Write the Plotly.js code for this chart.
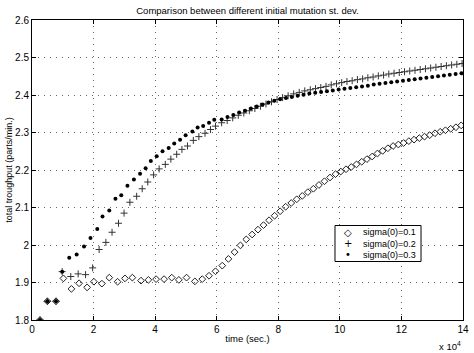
<!DOCTYPE html>
<html><head><meta charset="utf-8">
<script src="https://cdn.plot.ly/plotly-3.0.1.min.js"></script>
<style>html,body{margin:0;padding:0;background:#fff}#chart{width:474px;height:353px}</style>
</head><body><div id="chart"></div>
<script>
// time in units of 1e4 sec; throughput in parts/min
const x01 = [0.26,0.50,0.78,1.02,1.28,1.53,1.79,2.01,2.27,2.51,2.78,3.02,3.26,3.54,3.78,4.03,4.29,4.54,4.77,5.02,5.29,5.53,5.75,5.96,6.18,6.38,6.58,6.77,6.96,7.15,7.34,7.52,7.70,7.88,8.06,8.24,8.42,8.60,8.78,8.96,9.14,9.32,9.50,9.68,9.86,10.03,10.20,10.37,10.54,10.71,10.88,11.05,11.22,11.39,11.56,11.73,11.90,12.07,12.24,12.41,12.58,12.75,12.92,13.09,13.26,13.43,13.60,13.77,13.94];
const y01 = [1.80,1.85,1.85,1.911,1.883,1.898,1.887,1.902,1.897,1.913,1.902,1.911,1.913,1.905,1.907,1.909,1.909,1.913,1.907,1.913,1.903,1.909,1.918,1.930,1.945,1.963,1.981,1.999,2.015,2.028,2.041,2.053,2.066,2.078,2.090,2.102,2.112,2.122,2.131,2.141,2.150,2.160,2.170,2.180,2.189,2.196,2.202,2.208,2.215,2.222,2.229,2.236,2.244,2.251,2.258,2.264,2.268,2.272,2.277,2.281,2.285,2.289,2.293,2.298,2.302,2.306,2.310,2.314,2.319];

const x02 = [0.26,0.50,0.78,0.98,1.26,1.50,1.74,1.97,2.18,2.40,2.60,2.81,2.99,3.18,3.40,3.58,3.76,3.95,4.13,4.33,4.51,4.70,4.87,5.05,5.24,5.42,5.62,5.80,5.96,6.16,6.34,6.52,6.70,6.88,7.06,7.24,7.42,7.60,7.78,7.96,8.14,8.32,8.50,8.68,8.86,9.04,9.21,9.38,9.55,9.72,9.89,10.06,10.23,10.40,10.57,10.74,10.91,11.08,11.25,11.42,11.59,11.76,11.93,12.10,12.27,12.44,12.61,12.78,12.95,13.12,13.29,13.46,13.63,13.80,13.97];
const y02 = [1.80,1.85,1.85,1.929,1.916,1.923,1.921,1.939,1.988,2.007,2.034,2.058,2.085,2.114,2.130,2.150,2.168,2.187,2.203,2.215,2.229,2.242,2.255,2.264,2.279,2.289,2.298,2.308,2.317,2.326,2.332,2.339,2.346,2.352,2.358,2.364,2.370,2.376,2.382,2.388,2.393,2.398,2.403,2.407,2.411,2.414,2.417,2.420,2.423,2.427,2.430,2.433,2.436,2.438,2.441,2.443,2.446,2.448,2.451,2.453,2.456,2.458,2.460,2.462,2.464,2.466,2.468,2.470,2.472,2.474,2.476,2.478,2.480,2.482,2.484];

const x03 = [0.26,0.50,0.78,0.98,1.21,1.45,1.69,1.90,2.12,2.29,2.51,2.71,2.90,3.10,3.31,3.51,3.69,3.86,4.05,4.24,4.44,4.62,4.81,4.99,5.21,5.38,5.56,5.75,5.92,6.16,6.35,6.54,6.73,6.92,7.11,7.30,7.49,7.68,7.87,8.06,8.25,8.44,8.63,8.82,9.01,9.20,9.39,9.58,9.77,9.96,10.15,10.34,10.53,10.72,10.91,11.10,11.29,11.48,11.67,11.86,12.05,12.24,12.43,12.62,12.81,13.00,13.19,13.38,13.57,13.76,13.95];
const y03 = [1.80,1.85,1.85,1.929,1.966,1.975,1.996,2.019,2.043,2.076,2.092,2.123,2.133,2.158,2.175,2.190,2.205,2.224,2.237,2.250,2.259,2.271,2.281,2.293,2.303,2.313,2.317,2.326,2.334,2.335,2.341,2.347,2.353,2.358,2.364,2.369,2.375,2.380,2.385,2.389,2.392,2.395,2.398,2.401,2.404,2.406,2.408,2.410,2.412,2.415,2.417,2.419,2.421,2.423,2.425,2.428,2.430,2.432,2.434,2.436,2.438,2.440,2.442,2.444,2.446,2.448,2.450,2.452,2.454,2.456,2.458];

const seriesNames = ["sigma(0)=0.1","sigma(0)=0.2","sigma(0)=0.3"];
const legendGlyphs = ["\u25C7","+","\u2022"];
const xTicks = [0,2,4,6,8,10,12,14];
const yTicks = [1.8,1.9,2,2.1,2.2,2.3,2.4,2.5,2.6];

const FONT = "Liberation Sans, Arial, Helvetica, sans-serif";
const traces = [
  {x:x01, y:y01, name:seriesNames[0], type:'scatter', mode:'markers',
   marker:{symbol:'diamond-open', size:5.2, color:'#222', line:{width:1, color:'#222'}}},
  {x:x02, y:y02, name:seriesNames[1], type:'scatter', mode:'markers',
   marker:{symbol:'cross-thin-open', size:5, color:'#333', line:{width:1, color:'#333'}}},
  {x:x03, y:y03, name:seriesNames[2], type:'scatter', mode:'markers',
   marker:{symbol:'circle', size:4, color:'#000', line:{width:0}}}
];
const axisCommon = {
  showline:true, linecolor:'#000', linewidth:1, mirror:'ticks',
  ticks:'inside', ticklen:4, tickcolor:'#000', tickwidth:1,
  showgrid:true, gridcolor:'#666', griddash:'1px,5px', gridwidth:1,
  zeroline:false, tickfont:{family:FONT, size:10, color:'#000'}
};
// custom compact legend (box + labels) in paper coordinates
const lgX0 = 0.703, lgX1 = 0.9026, lgY0 = 0.195, lgY1 = 0.315;
const lgRows = [0.292, 0.254, 0.217];
const annotations = [{text:'x 10<sup>4</sup>', xref:'paper', yref:'paper', x:1.0, y:-0.085, xanchor:'right', yanchor:'middle',
                showarrow:false, font:{family:FONT, size:9.5, color:'#000'}}];
seriesNames.forEach((n,i)=>{
  annotations.push({text:legendGlyphs[i], xref:'paper', yref:'paper', x:0.733, y:lgRows[i], xanchor:'center', yanchor:'middle',
    showarrow:false, font:{family:'DejaVu Sans, sans-serif', size:10, color:'#000'}});
  annotations.push({text:n, xref:'paper', yref:'paper', x:0.764, y:lgRows[i], xanchor:'left', yanchor:'middle',
    showarrow:false, font:{family:FONT, size:9, color:'#000'}});
});
const layout = {
  width:474, height:353,
  margin:{l:32, r:11, t:20, b:33},
  paper_bgcolor:'#fff', plot_bgcolor:'#fff',
  font:{family:FONT, size:10, color:'#000'},
  title:{text:'Comparison between different initial mutation st. dev.', font:{family:FONT, size:9.5, color:'#000'},
         x:0.5, xref:'paper', xanchor:'center', y:0.97, yref:'container', yanchor:'middle'},
  xaxis:Object.assign({}, axisCommon, {range:[0,14], tickvals:xTicks, ticktext:xTicks.map(String),
         title:{text:'time (sec.)', font:{family:FONT, size:9.5}, standoff:1}}),
  yaxis:Object.assign({}, axisCommon, {range:[1.8,2.6], tickvals:yTicks, ticktext:yTicks.map(String),
         title:{text:'total troughput (parts/min.)', font:{family:FONT, size:9}, standoff:0}}),
  showlegend:false,
  shapes:[{type:'rect', xref:'paper', yref:'paper', x0:lgX0, x1:lgX1, y0:lgY0, y1:lgY1,
           line:{color:'#000', width:1}, fillcolor:'#fff', layer:'above'}],
  annotations:annotations
};
Plotly.newPlot('chart', traces, layout, {staticPlot:true, displayModeBar:false});
</script></body></html>
